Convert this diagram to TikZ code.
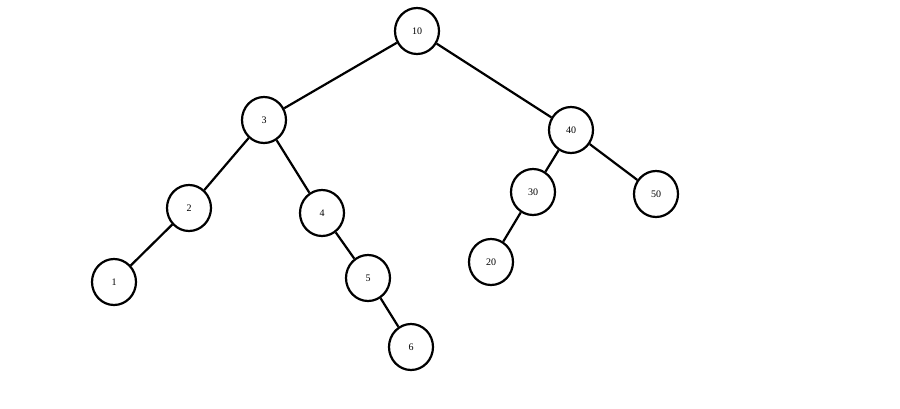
\documentclass[tikz,border=0pt]{standalone}
\usepackage{fontspec}
\setmainfont{Liberation Serif}
\usetikzlibrary{shapes.geometric}
\begin{document}
\begin{tikzpicture}[x=1pt,y=-1pt,
  tn/.style={ellipse,draw,line width=2.2pt,minimum width=44pt,minimum height=46pt,inner sep=0pt,font=\fontsize{10}{12}\selectfont},
  ed/.style={line width=2.2pt}]
\useasboundingbox (0,0) rectangle (900,408);
\node[tn] (n10) at (417,31) {10};
\node[tn] (n3) at (264,120) {3};
\node[tn] (n40) at (571,130) {40};
\node[tn] (n2) at (189,208) {2};
\node[tn] (n4) at (322,213) {4};
\node[tn] (n30) at (533,192) {30};
\node[tn] (n50) at (656,194) {50};
\node[tn] (n1) at (114,282) {1};
\node[tn] (n5) at (368,278) {5};
\node[tn] (n20) at (491,262) {20};
\node[tn] (n6) at (411,347) {6};
\draw[ed] (n10)--(n3); \draw[ed] (n10)--(n40);
\draw[ed] (n3)--(n2); \draw[ed] (n3)--(n4);
\draw[ed] (n2)--(n1); \draw[ed] (n4)--(n5); \draw[ed] (n5)--(n6);
\draw[ed] (n40)--(n30); \draw[ed] (n40)--(n50); \draw[ed] (n30)--(n20);
\end{tikzpicture}
\end{document}
